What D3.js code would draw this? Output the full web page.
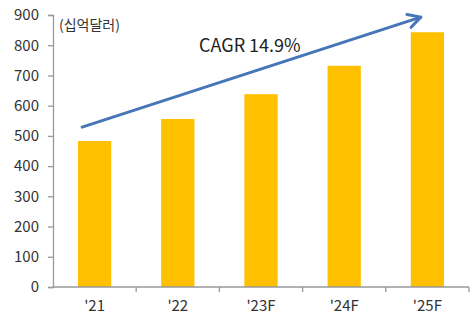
<!DOCTYPE html>
<html>
<head>
<meta charset="utf-8">
<script src="https://cdn.jsdelivr.net/npm/d3@7"></script>
<style>
  html, body { margin: 0; padding: 0; background: #fff; }
  svg { display: block; }
</style>
</head>
<body>
<svg id="chart" width="474" height="324"></svg>
<script>
// Market size by year (USD billions)
const categories = ["'21", "'22", "'23F", "'24F", "'25F"];
const values = [483, 556, 638, 732, 843];
const yTicks = [0, 100, 200, 300, 400, 500, 600, 700, 800, 900];
const unitLabel = "(십억달러)";
const cagrLabel = "CAGR 14.9%";
// Growth arrow endpoints: [category index position, value]
const arrowFrom = [-0.15, 529];
const arrowTo = [3.92, 893];

const svg = d3.select("#chart");
const margin = { left: 53, right: 5, top: 15, bottom: 37 };
const W = 474, H = 324;

const x = d3.scaleBand()
  .domain(categories)
  .range([margin.left, W - margin.right])
  .paddingInner(0.6)
  .paddingOuter(0.3);

const y = d3.scaleLinear()
  .domain([0, 900])
  .range([H - margin.bottom, margin.top]);

// index -> pixel centre of category
const xi = d3.scaleLinear()
  .domain([0, 1])
  .range([x(categories[0]) + x.bandwidth() / 2, x(categories[1]) + x.bandwidth() / 2]);

const font = "'Noto Sans CJK KR', 'Noto Sans', sans-serif";

// Bars
svg.append("g").selectAll("rect")
  .data(values)
  .join("rect")
  .attr("x", (d, i) => x(categories[i]))
  .attr("y", d => y(d))
  .attr("width", x.bandwidth())
  .attr("height", d => y(0) - y(d))
  .attr("fill", "#FFC000");

// Y axis
const yAxis = svg.append("g")
  .attr("transform", `translate(${margin.left},0)`)
  .call(d3.axisLeft(y).tickValues(yTicks).tickSize(5).tickPadding(9));
yAxis.select(".domain").attr("stroke", "#999").attr("stroke-width", 1.3);
yAxis.selectAll(".tick line").attr("stroke", "#999").attr("stroke-width", 1.3);
yAxis.selectAll("text")
  .attr("font-family", font).attr("font-size", 15).attr("fill", "#333");

// X axis: ticks at band boundaries
const step = x.step();
const xStart = margin.left;
const bounds = d3.range(categories.length + 1).map(i => xStart + i * step);
const xg = svg.append("g").attr("transform", `translate(0,${y(0)})`);
xg.append("line")
  .attr("x1", bounds[0]).attr("x2", bounds[bounds.length - 1])
  .attr("stroke", "#999").attr("stroke-width", 1.3);
xg.selectAll("line.tk")
  .data(bounds.slice(1))
  .join("line").attr("class", "tk")
  .attr("x1", d => d).attr("x2", d => d)
  .attr("y1", 0).attr("y2", 5)
  .attr("stroke", "#999").attr("stroke-width", 1.3);
xg.selectAll("text")
  .data(categories)
  .join("text")
  .attr("x", d => x(d) + x.bandwidth() / 2)
  .attr("y", 24)
  .attr("text-anchor", "middle")
  .attr("font-family", font).attr("font-size", 15).attr("fill", "#333")
  .text(d => d);

// Unit label
svg.append("text")
  .attr("x", 59).attr("y", 30)
  .attr("font-family", font).attr("font-size", 14).attr("fill", "#333")
  .text(unitLabel);

// Growth arrow
const x1 = xi(arrowFrom[0]), y1 = y(arrowFrom[1]);
const x2 = xi(arrowTo[0]), y2 = y(arrowTo[1]);
svg.append("line")
  .attr("x1", x1).attr("y1", y1).attr("x2", x2).attr("y2", y2)
  .attr("stroke", "#4675B8").attr("stroke-width", 3).attr("stroke-linecap", "round");
const ang = Math.atan2(y2 - y1, x2 - x1);
const hl = 14, ha = 0.5;
const headPts = [
  [x2 - hl * Math.cos(ang - ha), y2 - hl * Math.sin(ang - ha)],
  [x2, y2],
  [x2 - hl * Math.cos(ang + ha), y2 - hl * Math.sin(ang + ha)]
];
svg.append("path")
  .attr("d", d3.line()(headPts))
  .attr("fill", "none")
  .attr("stroke", "#4675B8").attr("stroke-width", 3)
  .attr("stroke-linecap", "round").attr("stroke-linejoin", "round");

// CAGR label
svg.append("text")
  .attr("x", 199).attr("y", 52)
  .attr("font-family", font).attr("font-size", 18).attr("fill", "#222")
  .text(cagrLabel);
</script>
</body>
</html>
